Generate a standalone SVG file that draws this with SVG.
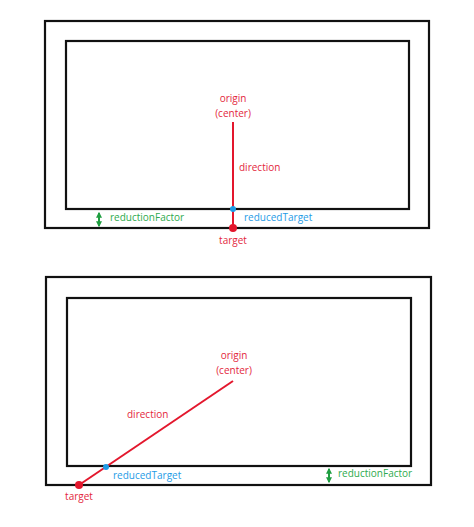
<svg xmlns="http://www.w3.org/2000/svg" width="474" height="527" viewBox="0 0 474 527">
<style>
.box{fill:none;stroke:#111;stroke-width:2.2}
.dir{stroke:#e3172d;stroke-width:2;fill:none}
.t{font-family:"Open Sans","Noto Sans",sans-serif;font-size:10px}
.red{fill:#e3263c}
.blue{fill:#1e9be6}
.green{fill:#2eaa4e}
.gl{stroke:#1f9e40;stroke-width:2;fill:none}
</style>
<defs>
<marker id="ah" viewBox="0 0 10 10" refX="8" refY="5" markerWidth="3" markerHeight="3" orient="auto-start-reverse">
<path d="M0,0 L10,5 L0,10 z" fill="#1f9e40"/>
</marker>
</defs>
<rect width="474" height="527" fill="#fff"/>
<g id="diagram1">
<g id="outer1"><rect class="box" x="45" y="21" width="384" height="207"/></g>
<g id="inner1"><rect class="box" x="66" y="41" width="343" height="168"/></g>
<g id="connectors1">
<line class="dir" x1="233" y1="122" x2="233" y2="228"/>
<line class="gl" x1="99" y1="213" x2="99" y2="226" marker-start="url(#ah)" marker-end="url(#ah)"/>
</g>
<g id="origin1"><text class="t red" x="233" y="102" text-anchor="middle">origin</text><text class="t red" x="233" y="116.5" text-anchor="middle">(center)</text></g>
<text class="t red" x="239" y="171">direction</text>
<g id="reduced1"><circle cx="233" cy="209" r="3" fill="#1e9be6"/><text class="t blue" x="244" y="221">reducedTarget</text></g>
<g id="target1"><circle cx="233" cy="228" r="4" fill="#e3172d"/><text class="t red" x="233" y="244" text-anchor="middle">target</text></g>
<text class="t green" x="110" y="221">reductionFactor</text>
</g>
<g id="diagram2">
<g id="outer2"><rect class="box" x="46" y="277" width="385" height="208"/></g>
<g id="inner2"><rect class="box" x="67" y="298" width="344" height="168"/></g>
<g id="connectors2">
<line class="dir" x1="233" y1="381" x2="79" y2="485"/>
<line class="gl" x1="329" y1="469" x2="329" y2="482" marker-start="url(#ah)" marker-end="url(#ah)"/>
</g>
<g id="origin2"><text class="t red" x="234" y="359" text-anchor="middle">origin</text><text class="t red" x="234" y="373.5" text-anchor="middle">(center)</text></g>
<text class="t red" x="127" y="418">direction</text>
<g id="reduced2"><circle cx="106" cy="467" r="3" fill="#1e9be6"/><text class="t blue" x="113" y="479">reducedTarget</text></g>
<g id="target2"><circle cx="79" cy="485" r="4" fill="#e3172d"/><text class="t red" x="79" y="500" text-anchor="middle">target</text></g>
<text class="t green" x="338" y="477">reductionFactor</text>
</g>
</svg>
